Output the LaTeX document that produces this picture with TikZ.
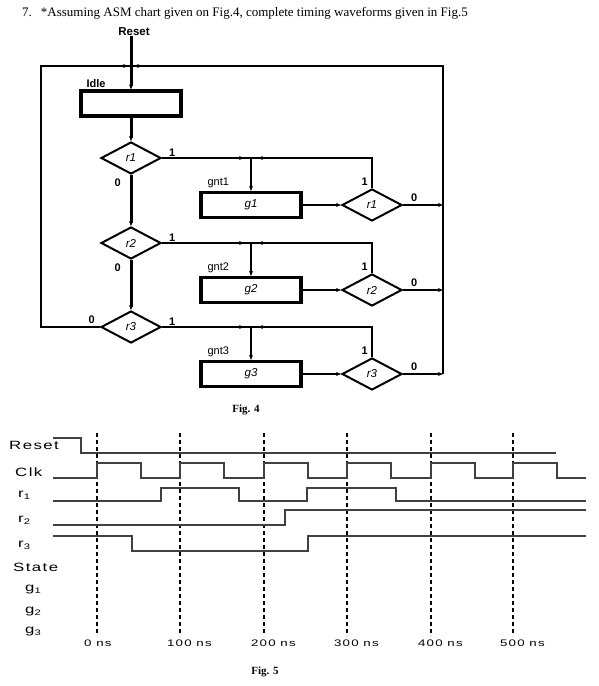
\documentclass[tikz,border=0pt]{standalone}
\usepackage{fontspec}
\setmainfont{Liberation Serif}
\setsansfont{Liberation Sans}
\newfontfamily\widesans[FakeStretch=1.4,LetterSpace=12]{Liberation Sans}
\usetikzlibrary{shapes.geometric,positioning,arrows.meta,decorations.markings}
\tikzset{
  lbl/.style={font=\sffamily\bfseries\fontsize{11}{13}\selectfont,inner sep=0pt},
  gntlbl/.style={font=\sffamily\fontsize{11}{13}\selectfont,inner sep=0pt},
  statebox/.style={draw,line width=3.2pt,minimum width=100pt,minimum height=25pt,inner sep=0pt,
    font=\sffamily\itshape\fontsize{11.5}{13}\selectfont},
  cond/.style={draw,diamond,aspect=1.9,line width=2pt,minimum width=60pt,minimum height=32pt,
    inner sep=0pt,font=\sffamily\itshape\fontsize{11.5}{13}\selectfont},
  flow/.style={line width=1.4pt,-{Stealth[length=5pt,width=4pt]}},
  trunk/.style={line width=3pt,-{Stealth[length=5pt,width=4pt]}},
  tipat/.style={line width=1.4pt,postaction=decorate,decoration={markings,
    mark=at position #1 with {\arrow{Stealth[length=5pt,width=4pt]}}}},
  wave/.style={line width=1.2pt,black!75},
  tick/.style={line width=1.6pt,dash pattern=on 4pt off 3pt},
  siglbl/.style={font=\widesans\fontsize{12}{14}\selectfont,anchor=west,inner sep=0pt},
  nslbl/.style={font=\widesans\fontsize{9.5}{11}\selectfont,anchor=west,inner sep=0pt},
}
% one request/grant row of the chart
\def\GNT#1#2{
  \node[cond] (r#1) at (131,#2) {r#1};
  \node[statebox] (g#1) at (251,#2+47) {g#1};
  \node[cond] (d#1) at (372,#2+47) {r#1};
  \node[gntlbl,above right=3pt and 8pt of g#1.north west] (n#1) {gnt#1};
  \node[lbl,above right=1pt and 7pt of r#1.east] (rone#1) {1};
  \node[lbl,above left=2pt and 4pt of d#1.north] (done#1) {1};
  \node[lbl,above right=3pt and 8pt of d#1.east] (dzero#1) {0};
  \coordinate (j#1) at (g#1.north |- r#1);
  \coordinate (e#1) at (443,#2+47);
  \draw[tipat=-7pt] (r#1.east) -- (j#1);
  \draw[tipat=-7pt] (d#1.north) |- (j#1);
  \draw[flow] (j#1) -- (g#1.north);
  \draw[flow] (g#1.east) -- (d#1.west);
  \draw[flow] (d#1.east) -- (e#1);
}

\begin{document}
\begin{tikzpicture}[x=1pt,y=-1pt]
\useasboundingbox (0,0) rectangle (599,686);
\node[anchor=west,inner sep=0pt,font=\fontsize{13}{15}\selectfont] (title) at (22,13)
  {7.\hspace{9pt}*Assuming ASM chart given on Fig.4, complete timing waveforms given in Fig.5};

% ASM chart
\node[lbl,font=\sffamily\bfseries\fontsize{11.5}{13}\selectfont] (rst) at (134,32) {Reset};
\node[statebox] (idle) at (131,103.5) {};
\node[lbl,above right=2pt and 7pt of idle.north west] (idlelbl) {Idle};
\GNT{1}{158}
\GNT{2}{243}
\GNT{3}{327}
\node[lbl,below left=4pt and 10pt of r1.south] (rzero1) {0};
\node[lbl,below left=4pt and 10pt of r2.south] (rzero2) {0};
\node[lbl,above left=3pt and 5pt of r3.west] (rzero3) {0};
\coordinate (top) at (131,66);
\coordinate (tl) at (41,66);
\coordinate (tr) at (443,66);
\draw[tipat=-3pt] (r3.west) -| (tl) -- (top);
\draw[tipat=-3pt] (e3) -- (tr) -- (top);
\draw[trunk] (idle.north |- rst.south) -- (idle.north);
\draw[trunk] (idle.south) -- (r1.north);
\draw[trunk] (r1.south) -- (r2.north);
\draw[trunk] (r2.south) -- (r3.north);
\node[font=\bfseries\fontsize{11}{13}\selectfont] (fig4) at (246,410) {Fig. 4};

% timing waveforms
\node[siglbl] (sreset) at (9,445) {Reset};
\node[siglbl] (sclk) at (15,472) {Clk};
\node[siglbl] (sr1) at (18,495) {r\textsubscript{1}};
\node[siglbl] (sr2) at (18,520) {r\textsubscript{2}};
\node[siglbl] (sr3) at (18,545) {r\textsubscript{3}};
\node[siglbl] (sstate) at (13,567) {State};
\node[siglbl] (sg1) at (25,590) {g\textsubscript{1}};
\node[siglbl] (sg2) at (25,612) {g\textsubscript{2}};
\node[siglbl] (sg3) at (25,632) {g\textsubscript{3}};
\foreach \x/\t in {97/0,180/100,264/200,347/300,431/400,513/500}{
  \draw[tick] (\x,433) -- (\x,636);
  \node[nslbl] (ns\t) at (\x-13,643) {\t\ ns};
}
\draw[wave] (53,438) -- (81,438) -- (81,453) -- (556,453);
\draw[wave] (53,478) foreach \t in {97,180,264,347,431,513}
  { -- (\t,478) -- (\t,463) -- (\t+44,463) -- (\t+44,478) } -- (586,478);
\draw[wave] (53,501) -- (161,501) -- (161,488) -- (239,488) -- (239,501) -- (307,501)
  -- (307,488) -- (396,488) -- (396,501) -- (586,501);
\draw[wave] (53,525) -- (285,525) -- (285,510) -- (586,510);
\draw[wave] (53,536) -- (132,536) -- (132,551) -- (308,551) -- (308,536) -- (586,536);
\node[font=\bfseries\fontsize{11}{13}\selectfont] (fig5) at (265,672) {Fig. 5};
\end{tikzpicture}
\end{document}
